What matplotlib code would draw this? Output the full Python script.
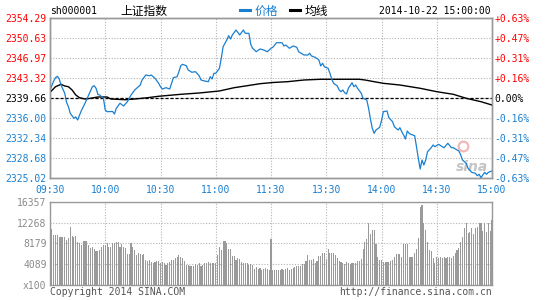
import numpy as np
import matplotlib
matplotlib.use('Agg')
import matplotlib.pyplot as plt
from matplotlib.lines import Line2D

plt.rcParams['font.family'] = ['DejaVu Sans Mono']
CJK = ['Noto Sans CJK SC', 'DejaVu Sans']

BLUE = '#1a7fd0'
RED = '#ff0000'
GRAY = '#999999'

# minute price samples
price_times = [
    '09:30', '09:32', '09:33', '09:34', '09:35', '09:36', '09:38', '09:39', '09:40', '09:41',
    '09:43', '09:44', '09:45', '09:47', '09:49', '09:51', '09:52', '09:53', '09:54', '09:55',
    '09:56', '09:57', '09:59', '10:00', '10:01', '10:04', '10:05', '10:06', '10:08', '10:10',
    '10:12', '10:14', '10:16', '10:19', '10:20', '10:22', '10:24', '10:25', '10:27', '10:29',
    '10:30', '10:31', '10:33', '10:35', '10:36', '10:37', '10:39', '10:40', '10:41', '10:42',
    '10:44', '10:45', '10:47', '10:49', '10:51', '10:52', '10:54', '10:56', '10:57', '10:58',
    '10:59', '11:00', '11:02', '11:03', '11:04', '11:06', '11:07', '11:08', '11:09', '11:11',
    '11:12', '11:13', '11:15', '11:16', '11:18', '11:19', '11:20', '11:22', '11:24', '11:26',
    '11:28', '11:30', '13:01', '13:03', '13:06', '13:07', '13:08', '13:10', '13:12', '13:14',
    '13:15', '13:17', '13:18', '13:20', '13:21', '13:22', '13:24', '13:26', '13:27', '13:28',
    '13:29', '13:31', '13:32', '13:33', '13:34', '13:36', '13:37', '13:38', '13:39', '13:40',
    '13:41', '13:42', '13:44', '13:45', '13:46', '13:47', '13:49', '13:50', '13:52', '13:53',
    '13:54', '13:55', '13:56', '13:57', '13:59', '14:00', '14:01', '14:03', '14:04', '14:06',
    '14:07', '14:09', '14:10', '14:11', '14:12', '14:13', '14:14', '14:15', '14:16', '14:18',
    '14:19', '14:20', '14:21', '14:22', '14:23', '14:24', '14:25', '14:27', '14:28', '14:29',
    '14:31', '14:33', '14:34', '14:36', '14:38', '14:39', '14:42', '14:43', '14:44', '14:46',
    '14:47', '14:49', '14:51', '14:52', '14:53', '14:54', '14:56', '14:57', '14:58', '15:00',
]
prices = [
    2341.12, 2342.76, 2343.37, 2343.62, 2343.13, 2342.03, 2340.51, 2338.87, 2338.06, 2336.86,
    2335.94, 2336.18, 2335.63, 2337.33, 2338.69, 2340.20, 2340.94, 2341.72, 2341.90, 2341.43,
    2340.33, 2340.20, 2339.60, 2337.46, 2337.15, 2337.19, 2336.73, 2337.77, 2338.69, 2338.19,
    2338.98, 2340.20, 2341.12, 2342.03, 2342.95, 2343.86, 2343.73, 2343.86, 2343.26, 2342.34,
    2341.72, 2341.30, 2341.54, 2341.30, 2342.34, 2343.37, 2343.55, 2344.47, 2345.56, 2345.82,
    2345.56, 2344.78, 2344.36, 2344.47, 2343.73, 2342.95, 2342.76, 2342.64, 2343.55, 2343.13,
    2344.17, 2344.17, 2345.09, 2346.92, 2349.04, 2350.27, 2351.05, 2350.45, 2351.18, 2352.09,
    2351.67, 2351.18, 2352.09, 2351.49, 2351.49, 2349.48, 2348.75, 2348.12, 2348.62, 2348.44,
    2348.12, 2348.75, 2348.93, 2349.77, 2349.77, 2349.17, 2349.35, 2348.75, 2349.17, 2348.93,
    2348.12, 2347.70, 2347.52, 2347.52, 2347.83, 2347.34, 2347.10, 2346.61, 2345.51, 2346.00,
    2345.38, 2345.09, 2344.17, 2343.08, 2342.34, 2341.85, 2341.12, 2340.81, 2341.12, 2340.62,
    2340.39, 2341.43, 2342.45, 2341.72, 2342.03, 2341.43, 2340.51, 2339.60, 2339.29, 2337.77,
    2335.76, 2334.11, 2333.20, 2333.80, 2334.29, 2335.50, 2337.15, 2337.28, 2336.05, 2335.32,
    2334.40, 2333.80, 2334.22, 2333.49, 2332.89, 2332.15, 2333.62, 2333.20, 2333.01, 2332.76,
    2330.75, 2328.60, 2326.67, 2328.31, 2327.40, 2328.31, 2329.83, 2330.56, 2331.06, 2330.75,
    2331.18, 2330.75, 2330.56, 2331.37, 2330.56, 2330.56, 2329.96, 2329.23, 2328.31, 2327.71,
    2326.79, 2326.06, 2325.88, 2325.44, 2325.70, 2325.07, 2326.06, 2325.70, 2326.06, 2326.30,
]

# average price line
avg_times = [
    '09:30', '09:33', '09:36', '09:38', '09:40', '09:42', '09:44', '09:46', '09:49', '09:52',
    '09:56', '10:01', '10:03', '10:11', '10:16', '10:23', '10:29', '10:41', '10:51', '11:02',
    '11:10', '11:17', '11:24', '13:01', '13:09', '13:18', '13:27', '13:48', '13:51', '13:56',
    '14:01', '14:10', '14:21', '14:30', '14:39', '14:46', '14:54', '15:00',
]
avg_prices = [
    2340.70, 2341.72, 2342.16, 2341.85, 2341.72, 2341.12, 2340.20, 2339.71, 2339.47, 2339.60,
    2339.84, 2339.84, 2339.47, 2339.34, 2339.47, 2339.71, 2339.97, 2340.33, 2340.57, 2340.94,
    2341.54, 2341.90, 2342.27, 2342.49, 2342.64, 2342.95, 2343.08, 2343.08, 2342.95, 2342.64,
    2342.34, 2342.03, 2341.43, 2340.81, 2340.33, 2339.60, 2338.98, 2338.37,
]

# volume (x100), one bar per minute: 09:30-11:30 and 13:01-15:00
vol_am = [
    10960, 10960, 9910, 9780, 9910, 9380, 9380, 9510, 9380, 8860,
    9180, 11490, 9720, 9380, 9720, 8530, 8330, 7810, 8730, 8730,
    8600, 7940, 7290, 7550, 7160, 6620, 6620, 6950, 7420, 7810,
    7940, 8200, 7420, 7420, 8330, 8330, 8530, 8400, 7420, 8070,
    7420, 7290, 6170, 6170, 8200, 7420, 6950, 5970, 6300, 6110,
    5970, 6170, 4920, 4790, 4900, 4600, 4330, 4530, 4790, 4790,
    4330, 4530, 4330, 3880, 4330, 4530, 4920, 4920, 5250, 5570,
    5960, 5570, 5310, 4660, 4000, 3880, 3680, 3680, 3680, 4130,
    3880, 4330, 3680, 3880, 4330, 4330, 4530, 4330, 4330, 4400,
    4330, 6000, 7480, 6960, 8580, 8720, 8260, 7150, 7150, 5640,
    5640, 4920, 5310, 5180, 4530, 4330, 4330, 4330, 3880, 4130,
    3900, 3220, 3480, 3220, 3350, 2960, 3090, 3300, 3100, 3000,
    9000,
]
vol_pm = [
    2870, 3000, 2870, 2870, 3000, 3130, 3000, 3130, 3300, 3000,
    3130, 3300, 3500, 3780, 3780, 3700, 4170, 4100, 4760, 5870,
    4950, 4950, 5080, 4430, 4700, 5670, 5800, 6260, 6260, 5210,
    7040, 6390, 6390, 6390, 5870, 5340, 4760, 4500, 4430, 4170,
    4560, 4430, 4170, 4300, 4300, 4300, 4700, 4820, 5200, 7040,
    8470, 9120, 12250, 9970, 10820, 10820, 8080, 5500, 4950, 4950,
    4630, 4630, 4630, 4630, 4760, 4950, 5500, 6130, 6130, 6130,
    5500, 8080, 8080, 8080, 5600, 5600, 5470, 6390, 7000, 9190,
    15380, 15770, 12120, 10820, 8540, 6900, 6750, 5280, 4430, 5470,
    5300, 5500, 5400, 5500, 5300, 5500, 5600, 5400, 5800, 6390,
    6900, 7230, 8540, 9510, 11140, 12250, 10300, 10430, 11140, 10040,
    11140, 11470, 12120, 12250, 10690, 12250, 10500, 12250, 10700, 12900,
]

base = 2339.66
price_ticks = [2325.02, 2328.68, 2332.34, 2336.00, 2339.66, 2343.32, 2346.97, 2350.63, 2354.29]
vol_ticks = [0, 4089, 8179, 12268, 16357]
vol_labels = ['x100', '4089', '8179', '12268', '16357']
time_ticks = ['09:30', '10:00', '10:30', '11:00', '11:30', '13:30', '14:00', '14:30', '15:00']


def idx(s):
    h, m = map(int, s.split(':'))
    mins = h * 60 + m
    if mins <= 11 * 60 + 30:
        return mins - (9 * 60 + 30)
    return 120 + mins - 13 * 60


W, H = 545, 300


def box(l, t, r, b):
    return [l / W, 1 - b / H, (r - l) / W, (b - t) / H]


fig = plt.figure(figsize=(W / 100, H / 100), dpi=100)
ax = fig.add_axes(box(50, 18, 492, 178))
axv = fig.add_axes(box(50, 202, 492, 285))

grid_kw = dict(color='#b4b4b4', linestyle=(0, (1, 1.5)), linewidth=0.8)

# price panel
ax.set_xlim(0, 240)
ax.set_ylim(price_ticks[0], price_ticks[-1])
ax.set_axisbelow(True)
ax.grid(True, **grid_kw)
ax.axhline(base, color='black', linestyle=(0, (2.5, 1.5)), linewidth=0.9, zorder=2)
ax.plot([idx(t) for t in avg_times], avg_prices, color='black', linewidth=1.0, zorder=3)
ax.plot([idx(t) for t in price_times], prices, color=BLUE, linewidth=0.9, zorder=4)

ax.set_xticks([idx(t) for t in time_ticks])
ax.set_xticklabels(time_ticks, color=BLUE)
ax.set_yticks(price_ticks)
ax.set_yticklabels(['%.2f' % p for p in price_ticks])
ax.tick_params(length=0, labelsize=7)
ax.tick_params(axis='x', pad=5)
ax.tick_params(axis='y', pad=2.5)


def tick_color(v):
    if abs(v - base) < 0.01:
        return 'black'
    return RED if v > base else BLUE


for lbl, v in zip(ax.get_yticklabels(), price_ticks):
    lbl.set_color(tick_color(v))

ax2 = ax.twinx()
ax2.set_ylim(ax.get_ylim())
ax2.set_yticks(price_ticks)
pct = [(p - base) / base * 100 for p in price_ticks]
ax2.set_yticklabels([('0.00%' if abs(v) < 0.005 else '%+.2f%%' % v) for v in pct])
ax2.tick_params(length=0, labelsize=7, pad=2)
for lbl, v in zip(ax2.get_yticklabels(), price_ticks):
    lbl.set_color(tick_color(v))

for a in (ax, ax2, axv):
    for s in a.spines.values():
        s.set_color(GRAY)
        s.set_linewidth(1.0)

# sina watermark
ax.text(0.955, 0.07, 'sina', transform=ax.transAxes, ha='center', va='center',
        fontsize=10, fontstyle='italic', fontweight='bold', color='#c4c4c4',
        family='DejaVu Sans', zorder=1)
ax.plot([0.935], [0.2], 'o', transform=ax.transAxes, markersize=7,
        markerfacecolor='none', markeredgecolor='#f3b8b8', markeredgewidth=1.6, zorder=1)

# volume panel
vols = vol_am + vol_pm
axv.bar(np.arange(len(vols)), vols, width=0.6, color='#9a9a9a', zorder=2)
axv.set_xlim(0, 240)
axv.set_ylim(0, vol_ticks[-1])
axv.set_axisbelow(True)
axv.grid(True, **grid_kw)
axv.set_xticks([idx(t) for t in time_ticks])
axv.set_xticklabels([])
axv.set_yticks(vol_ticks)
axv.set_yticklabels(vol_labels, color='#8a8a8a')
axv.tick_params(length=0, labelsize=7, pad=2.5)

# header
fig.text(50 / W, 1 - 11 / H, 'sh000001', fontsize=7, va='center', ha='left')
fig.text(120 / W, 1 - 11 / H, '上证指数', fontsize=8.5, va='center', ha='left', family=CJK)
fig.add_artist(Line2D([240 / W, 250 / W], [1 - 9.5 / H] * 2, color=BLUE, linewidth=2.2))
fig.text(255 / W, 1 - 11 / H, '价格', fontsize=8.5, va='center', ha='left', color=BLUE, family=CJK)
fig.add_artist(Line2D([290 / W, 300 / W], [1 - 9.5 / H] * 2, color='black', linewidth=2.2))
fig.text(305 / W, 1 - 11 / H, '均线', fontsize=8.5, va='center', ha='left', family=CJK)
fig.text(491 / W, 1 - 11 / H, '2014-10-22 15:00:00', fontsize=7, va='center', ha='right')

# footer
fig.text(50 / W, 1 - 292 / H, 'Copyright 2014 SINA.COM', fontsize=7, va='center', ha='left', color='#555555')
fig.text(492 / W, 1 - 292 / H, 'http://finance.sina.com.cn', fontsize=7, va='center', ha='right', color='#555555')

fig.savefig('out.png', dpi=100)
